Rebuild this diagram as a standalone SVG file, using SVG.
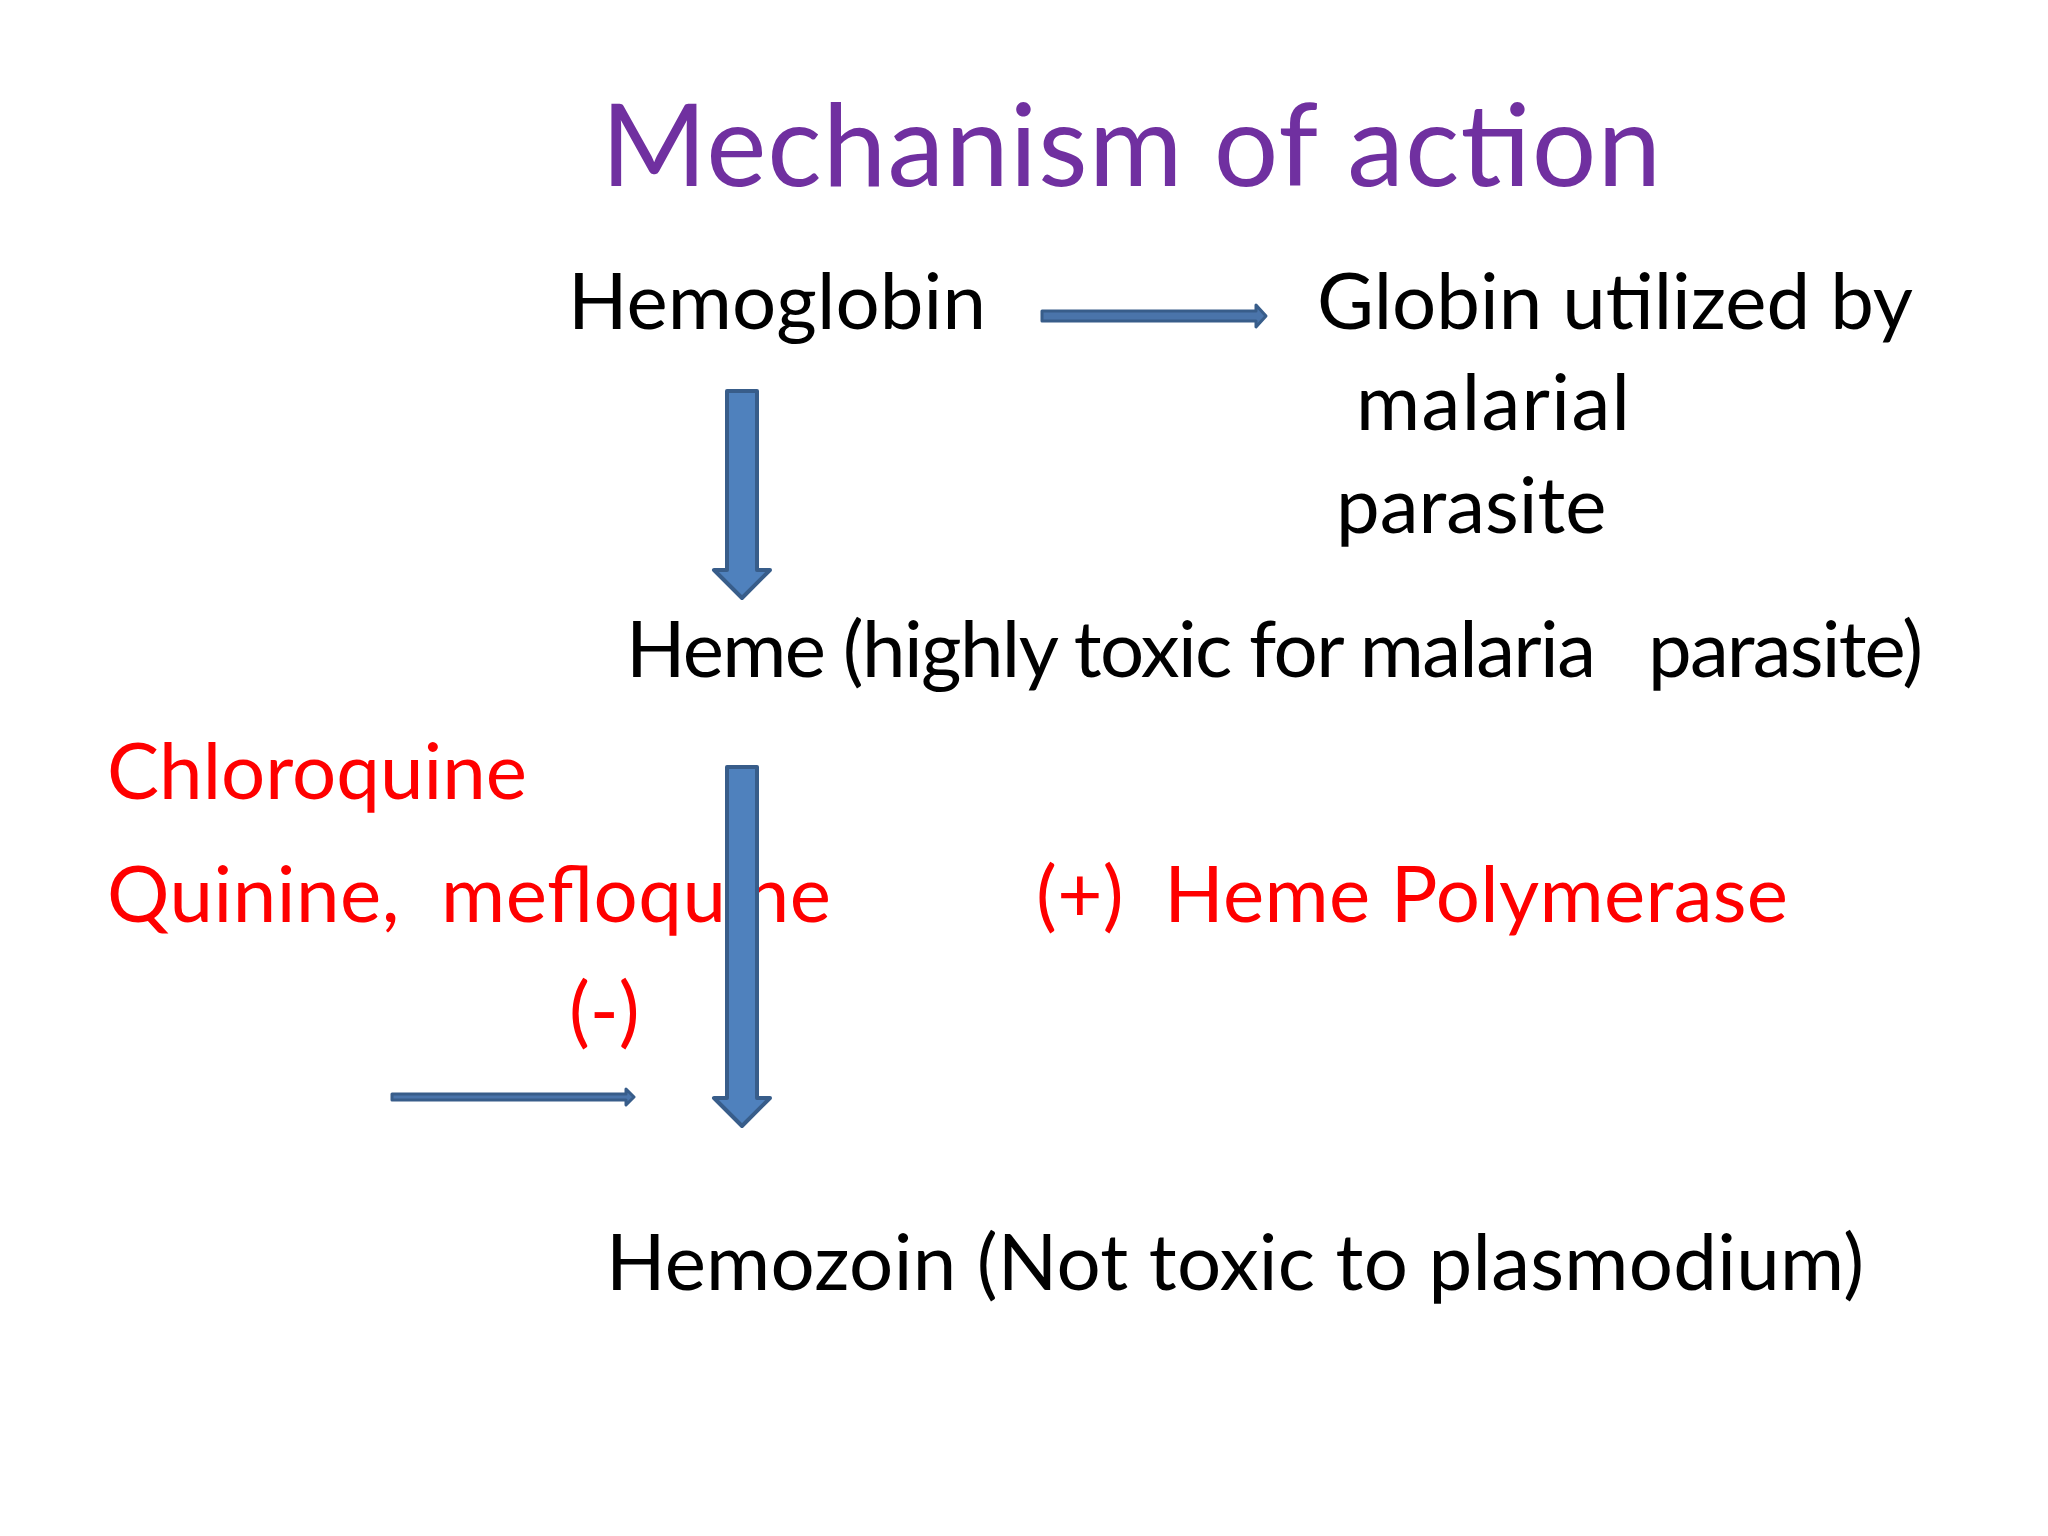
<svg xmlns="http://www.w3.org/2000/svg" width="2048" height="1536" viewBox="0 0 2048 1536">
<style>
.t{font-family:Lato,"Open Sans","Liberation Sans",sans-serif;}
.title{font-size:114px;fill:#7030A0;}
.b{font-size:78px;fill:#000;}
.r{font-size:78px;fill:#FF0000;}
.arr{fill:#4F81BD;stroke:#385D8A;stroke-width:4;stroke-linejoin:round;}
.thin{fill:#4A74AA;stroke:#385D8A;stroke-width:3;stroke-linejoin:round;}
</style>
<rect width="2048" height="1536" fill="#fff"/>
<g id="title"><text class="t title" x="601" y="186" textLength="1060">Mechanism of action</text></g>
<g id="hemoglobin"><text class="t b" x="568" y="329" textLength="418">Hemoglobin</text></g>
<g id="globin"><text class="t b" x="1317" y="329">Globin utilized by</text><text class="t b" x="1356" y="430" textLength="274">malarial</text><text class="t b" x="1336" y="533">parasite</text></g>
<g id="heme"><text class="t b" x="626" y="677" textLength="970">Heme (highly toxic for malaria</text><text class="t b" x="1648" y="677" textLength="275">parasite)</text></g>
<g id="drugs"><text class="t r" x="107" y="799">Chloroquine</text><text class="t r" x="107" y="922" textLength="724" xml:space="preserve">Quinine,  mefloquine</text><text class="t r" x="569" y="1038">(-)</text></g>
<g id="polymerase"><text class="t r" x="1036" y="922" textLength="752" xml:space="preserve">(+)  Heme Polymerase</text></g>
<g id="hemozoin"><text class="t b" x="606" y="1290" textLength="1258">Hemozoin (Not toxic to plasmodium)</text></g>
<g id="connectors">
<path class="thin" d="M1042,311 H1256 V305 L1266,316 L1256,327 V321 H1042 Z"/>
<path class="arr" d="M727,391 H757 V570 H770 L742,598 L714,570 H727 Z"/>
<path class="arr" d="M727,767 H757 V1098 H770 L742,1126 L714,1098 H727 Z"/>
<path class="thin" d="M392,1094 H626 V1089 L634,1097 L626,1105 V1100 H392 Z"/>
</g>
</svg>
